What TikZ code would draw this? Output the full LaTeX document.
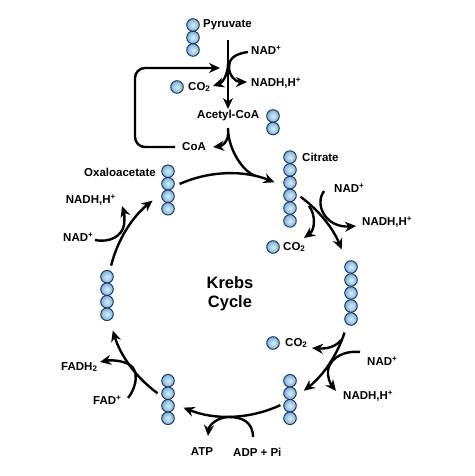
\documentclass[tikz,border=0pt]{standalone}
\usepackage{fontspec}
\setmainfont{Liberation Sans}
\usepackage{tikz}
\usetikzlibrary{arrows.meta}

\definecolor{beadin}{RGB}{220,239,252}
\definecolor{beadout}{RGB}{118,176,222}
\definecolor{beadline}{RGB}{28,48,78}

\tikzset{
  bead/.style={circle, draw=beadline, line width=0.9pt, inner sep=0pt, minimum size=12.6pt, inner color=beadin, outer color=beadout},
  lbl/.style={font=\bfseries\fontsize{11.5}{13}\selectfont, inner sep=0pt},
  big/.style={font=\bfseries\fontsize{16.5}{19}\selectfont, align=center, inner sep=0pt},
  flow/.style={line width=2.4pt, -{Stealth[length=11pt,width=10pt]}},
  plain/.style={line width=2.4pt},
}

\begin{document}
\begin{tikzpicture}[x=1pt,y=1pt]
\useasboundingbox (0,0) rectangle (474,476);
\coordinate (ctr) at (229,181);

\node[bead] (pyr1) at (193,451) {};
\node[bead] (pyr2) at (193,438.5) {};
\node[bead] (pyr3) at (193,426) {};
\node[lbl, anchor=west] (pyruvate) at (203,451) {Pyruvate};

\node[bead] (acc1) at (273,360) {};
\node[bead] (acc2) at (273,347.5) {};
\node[lbl, anchor=west] (acetyl) at (197,360) {Acetyl-CoA};
\node[lbl, anchor=west] (coa) at (182,329) {CoA};

\node[lbl, anchor=west] (nadA) at (251,426) {NAD\textsuperscript{+}};
\node[lbl, anchor=west] (nadhA) at (251,393) {NADH,H\textsuperscript{+}};
\node[bead] (co2Abead) at (177,389) {};
\node[lbl, anchor=west] (co2A) at (188,389) {CO\textsubscript{2}};

\node[bead] (cit1) at (290,318.9) {};
\node[bead] (cit2) at (290,306.1) {};
\node[bead] (cit3) at (290,293.4) {};
\node[bead] (cit4) at (290,280.6) {};
\node[bead] (cit5) at (290,267.9) {};
\node[bead] (cit6) at (290,255.1) {};
\node[lbl, anchor=west] (citrate) at (302,319) {Citrate};

\node[bead] (oxa1) at (168,304.75) {};
\node[bead] (oxa2) at (168,292.25) {};
\node[bead] (oxa3) at (168,279.75) {};
\node[bead] (oxa4) at (168,267.25) {};
\node[lbl, anchor=east] (oxaloacetate) at (156,304) {Oxaloacetate};

\node[bead] (rgt1) at (351,209) {};
\node[bead] (rgt2) at (351,196) {};
\node[bead] (rgt3) at (351,183) {};
\node[bead] (rgt4) at (351,170) {};
\node[bead] (rgt5) at (351,157) {};

\node[bead] (lr1) at (290,95.25) {};
\node[bead] (lr2) at (290,82.75) {};
\node[bead] (lr3) at (290,70.25) {};
\node[bead] (lr4) at (290,57.75) {};

\node[bead] (ll1) at (168,95.25) {};
\node[bead] (ll2) at (168,82.75) {};
\node[bead] (ll3) at (168,70.25) {};
\node[bead] (ll4) at (168,57.75) {};

\node[bead] (lft1) at (107,199.25) {};
\node[bead] (lft2) at (107,186.75) {};
\node[bead] (lft3) at (107,174.25) {};
\node[bead] (lft4) at (107,161.75) {};

\node[big] (krebs) at (230,182) {Krebs\\Cycle};

\node[lbl, anchor=west] (nadB) at (334,288) {NAD\textsuperscript{+}};
\node[lbl, anchor=west] (nadhB) at (362,254) {NADH,H\textsuperscript{+}};
\node[bead] (co2Bbead) at (273,229) {};
\node[lbl, anchor=west] (co2B) at (283,229) {CO\textsubscript{2}};

\node[bead] (co2Cbead) at (273,133) {};
\node[lbl, anchor=west] (co2C) at (285,133) {CO\textsubscript{2}};
\node[lbl, anchor=west] (nadC) at (367,115) {NAD\textsuperscript{+}};
\node[lbl, anchor=west] (nadhC) at (343,80) {NADH,H\textsuperscript{+}};

\node[lbl, anchor=west] (adp) at (233,24) {ADP + Pi};
\node[lbl] (atp) at (202,24) {ATP};

\node[lbl, anchor=west] (fad) at (93,76) {FAD\textsuperscript{+}};
\node[lbl, anchor=west] (fadh) at (61,109) {FADH\textsubscript{2}};

\node[lbl, anchor=west] (nadD) at (63,239) {NAD\textsuperscript{+}};
\node[lbl, anchor=east] (nadhD) at (116,276) {NADH,H\textsuperscript{+}};

\draw[flow] (228,436) -- (228,367);
\draw[flow] (248,424) .. controls (233,422) and (229,416) .. (229,409) .. controls (229,401) and (235,394) .. (247,394);
\draw[flow] (228,412) .. controls (228,401) and (222,393) .. (213,390);
\draw[flow, rounded corners=10pt] (175,329) -- (135,329) -- (135,408) -- (220,408);
\draw[plain] (228,348) .. controls (228,326) and (244,303) .. (256,300);
\draw[flow] (228,342) .. controls (228,334) and (222,330) .. (213,329);

\draw[flow] (ctr) ++(114:121.5) arc[start angle=114, end angle=68, radius=121.5];
\draw[flow] (ctr) ++(54:121.5) arc[start angle=54, end angle=22, radius=121.5];
\draw[flow] (ctr) ++(-18:121.5) arc[start angle=-18, end angle=-52, radius=121.5];
\draw[flow] (ctr) ++(-65:121.5) arc[start angle=-65, end angle=-112, radius=121.5];
\draw[flow] (ctr) ++(234:121.5) arc[start angle=234, end angle=197, radius=121.5];
\draw[flow] (ctr) ++(166:121.5) arc[start angle=166, end angle=129, radius=121.5];

\draw[flow] (324,285) .. controls (314,271) and (326,248) .. (356,250);
\draw[flow] (309,270) .. controls (316,261) and (315,246) .. (304,238);

\draw[flow] (341,136) .. controls (336,129) and (326,127) .. (312,128);
\draw[flow] (360,124) .. controls (340,126) and (326,114) .. (328,101) .. controls (329,94) and (332,90) .. (336,85);

\draw[flow] (253,39) .. controls (253,54) and (242,59) .. (229,59) .. controls (218,59) and (209,51) .. (208,40);

\draw[flow] (128,78) .. controls (138,91) and (138,106) .. (130,111) .. controls (122,116) and (110,116) .. (100,114);

\draw[flow] (95,236) .. controls (110,233) and (122,240) .. (124,251) .. controls (125,258) and (124,264) .. (122,270);
\end{tikzpicture}
\end{document}
